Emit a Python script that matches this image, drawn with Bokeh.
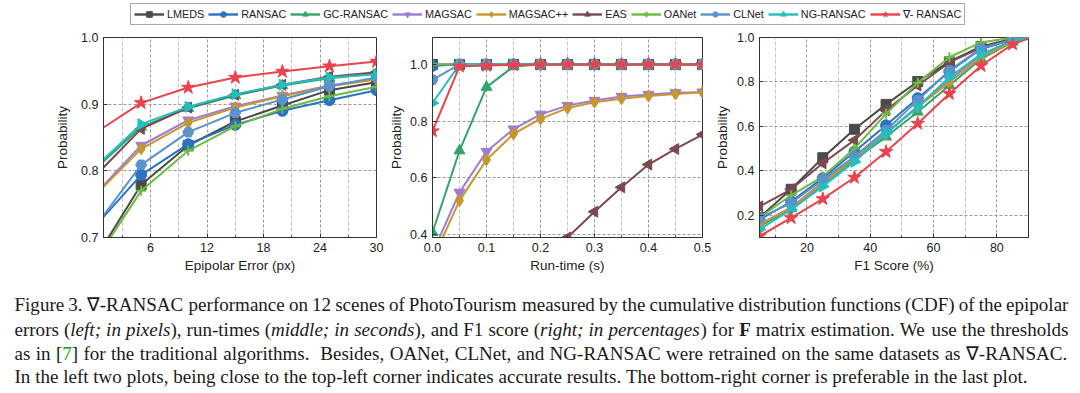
import math
from bokeh.plotting import figure
from bokeh.models import Range1d, FixedTicker, Legend, LegendItem, ColumnDataSource, NumeralTickFormatter
from bokeh.layouts import column, row
from bokeh.core.properties import value
from bokeh.embed import file_html
from bokeh.resources import INLINE

# ---------------- data ----------------
methods = ["LMEDS", "RANSAC", "GC-RANSAC", "MAGSAC", "MAGSAC++", "EAS",
           "OANet", "CLNet", "NG-RANSAC", "∇- RANSAC"]
colors = ["#4a4a4a", "#2a72c2", "#34a46c", "#9a7fd0", "#c8952e", "#7a4a50",
          "#6dbb45", "#5b92cc", "#22bfc0", "#e9434b"]
markers = ["square", "circle", "triangle", "inverted_triangle", "diamond", "triangle",
           "cross", "hex", "triangle", "star"]
angles = [0, 0, 0, 0, 0, math.pi / 2, 0, 0, -math.pi / 2, 0]
sizes = [10, 11, 11, 11, 12, 11, 10, 11, 11, 14]

# Epipolar error CDF (left)
epi_x = [1, 5, 10, 15, 20, 25, 30]
epi_y = {
    "LMEDS":     [0.688, 0.779, 0.838, 0.874, 0.898, 0.921, 0.933],
    "RANSAC":    [0.731, 0.794, 0.840, 0.869, 0.890, 0.906, 0.921],
    "GC-RANSAC": [0.814, 0.866, 0.894, 0.913, 0.928, 0.939, 0.946],
    "MAGSAC":    [0.778, 0.838, 0.876, 0.897, 0.913, 0.928, 0.938],
    "MAGSAC++":  [0.776, 0.833, 0.872, 0.895, 0.912, 0.927, 0.937],
    "EAS":       [0.805, 0.863, 0.895, 0.914, 0.929, 0.941, 0.948],
    "OANet":     [0.684, 0.770, 0.830, 0.867, 0.893, 0.912, 0.926],
    "CLNet":     [0.733, 0.809, 0.858, 0.887, 0.907, 0.927, 0.940],
    "NG-RANSAC": [0.817, 0.870, 0.896, 0.915, 0.929, 0.940, 0.945],
    "∇- RANSAC": [0.865, 0.902, 0.925, 0.940, 0.949, 0.957, 0.964],
}
# Run-time CDF (middle)
rt_x = [0.0, 0.05, 0.1, 0.15, 0.2, 0.25, 0.3, 0.35, 0.4, 0.45, 0.5]
rt_y = {
    "LMEDS":     [1.0, 1.0, 1.0, 1.0, 1.0, 1.0, 1.0, 1.0, 1.0, 1.0, 1.0],
    "RANSAC":    [0.995, 1.0, 1.0, 1.0, 1.0, 1.0, 1.0, 1.0, 1.0, 1.0, 1.0],
    "GC-RANSAC": [0.408, 0.696, 0.920, 0.993, 1.0, 1.0, 1.0, 1.0, 1.0, 1.0, 1.0],
    "MAGSAC":    [0.335, 0.549, 0.693, 0.772, 0.824, 0.855, 0.873, 0.887, 0.894, 0.900, 0.902],
    "MAGSAC++":  [0.311, 0.520, 0.664, 0.755, 0.808, 0.846, 0.867, 0.879, 0.889, 0.896, 0.902],
    "EAS":       [0.0, 0.01, 0.05, 0.13, 0.26, 0.39, 0.481, 0.567, 0.647, 0.702, 0.753],
    "OANet":     [1.0, 1.0, 1.0, 1.0, 1.0, 1.0, 1.0, 1.0, 1.0, 1.0, 1.0],
    "CLNet":     [0.946, 1.0, 1.0, 1.0, 1.0, 1.0, 1.0, 1.0, 1.0, 1.0, 1.0],
    "NG-RANSAC": [0.864, 1.0, 1.0, 1.0, 1.0, 1.0, 1.0, 1.0, 1.0, 1.0, 1.0],
    "∇- RANSAC": [0.765, 0.993, 0.996, 0.998, 1.0, 1.0, 1.0, 1.0, 1.0, 1.0, 1.0],
}
# F1 score CDF (right)
f1_x = [5, 15, 25, 35, 45, 55, 65, 75, 85, 90]
f1_y = {
    "LMEDS":     [0.190, 0.317, 0.459, 0.587, 0.699, 0.802, 0.891, 0.960, 0.995, 1.0],
    "RANSAC":    [0.180, 0.262, 0.367, 0.486, 0.605, 0.727, 0.847, 0.948, 0.990, 1.0],
    "GC-RANSAC": [0.150, 0.230, 0.340, 0.450, 0.553, 0.665, 0.784, 0.903, 0.980, 0.998],
    "MAGSAC":    [0.160, 0.235, 0.350, 0.460, 0.570, 0.690, 0.810, 0.920, 0.985, 0.999],
    "MAGSAC++":  [0.158, 0.233, 0.344, 0.456, 0.568, 0.687, 0.799, 0.911, 0.980, 0.998],
    "EAS":       [0.240, 0.317, 0.434, 0.538, 0.672, 0.784, 0.888, 0.955, 0.995, 1.0],
    "OANet":     [0.190, 0.290, 0.374, 0.500, 0.657, 0.796, 0.911, 0.978, 1.0, 1.0],
    "CLNet":     [0.188, 0.255, 0.360, 0.464, 0.583, 0.717, 0.851, 0.951, 0.990, 1.0],
    "NG-RANSAC": [0.136, 0.225, 0.330, 0.441, 0.568, 0.687, 0.821, 0.925, 0.985, 0.999],
    "∇- RANSAC": [0.106, 0.188, 0.274, 0.370, 0.486, 0.613, 0.747, 0.873, 0.970, 0.995],
}

epi_xticks = [6, 12, 18, 24, 30]
epi_xminor = [3, 9, 15, 21, 27]
epi_yticks = [0.7, 0.8, 0.9, 1.0]
rt_xticks = [0.0, 0.1, 0.2, 0.3, 0.4, 0.5]
rt_xminor = [0.05, 0.15, 0.25, 0.35, 0.45]
rt_yticks = [0.4, 0.6, 0.8, 1.0]
f1_xticks = [20, 40, 60, 80]
f1_xminor = [10, 30, 50, 70]
f1_yticks = [0.2, 0.4, 0.6, 0.8, 1.0]

caption_lines = [
    [("Figure 3. ∇-RANSAC performance on 12 scenes of PhotoTourism measured by the cumulative distribution functions (CDF) of the epipolar", "r")],
    [("errors (", "r"), ("left; in pixels", "i"), ("), run-times (", "r"), ("middle; in seconds", "i"),
     ("), and F1 score (", "r"), ("right; in percentages", "i"), (") for ", "r"), ("F", "b"),
     (" matrix estimation. We use the thresholds", "r")],
    [("as in [", "r"), ("7", "g"), ("] for the traditional algorithms.  Besides, OANet, CLNet, and NG-RANSAC were retrained on the same datasets as ∇-RANSAC.", "r")],
    [("In the left two plots, being close to the top-left corner indicates accurate results. The bottom-right corner is preferable in the last plot.", "r")],
]

SANS = "Liberation Sans"
AXIS_C = "#333333"


def panel(xs, ys, m0, m1, xr, yr, xt, xmt, yt, xfmt, xlabel, width, bl, br, ylab_standoff):
    p = figure(width=width, height=245, x_range=Range1d(*xr), y_range=Range1d(*yr),
               toolbar_location=None, output_backend="svg",
               min_border_left=bl, min_border_right=br, min_border_top=7, min_border_bottom=37)
    p.background_fill_color = "white"
    p.border_fill_color = "white"
    p.outline_line_color = AXIS_C
    p.outline_line_width = 1
    xtk = FixedTicker(ticks=xt, minor_ticks=xmt)
    ytk = FixedTicker(ticks=yt, minor_ticks=[])
    p.xaxis.ticker = xtk
    p.yaxis.ticker = ytk
    p.xgrid.ticker = xtk
    p.ygrid.ticker = ytk
    p.yaxis.formatter = NumeralTickFormatter(format="0.0")
    p.xaxis.formatter = NumeralTickFormatter(format=xfmt)
    for g in (p.xgrid, p.ygrid):
        g.grid_line_color = "#9a9a9a"
        g.grid_line_dash = "3 2"
        g.grid_line_width = 1
    p.xgrid.minor_grid_line_color = "#c4c4c4"
    p.xgrid.minor_grid_line_dash = "4 2"
    for ax in (p.xaxis, p.yaxis):
        ax.axis_line_color = AXIS_C
        ax.major_tick_line_color = AXIS_C
        ax.minor_tick_line_color = AXIS_C
        ax.major_tick_in = 4
        ax.major_tick_out = 0
        ax.minor_tick_in = 2
        ax.minor_tick_out = 0
        ax.major_label_text_font = SANS
        ax.major_label_text_font_size = "12.5px"
        ax.major_label_text_color = "#222222"
        ax.axis_label_text_font = SANS
        ax.axis_label_text_font_size = "13.5px"
        ax.axis_label_text_font_style = "normal"
        ax.axis_label_text_color = "#222222"
        ax.major_label_standoff = 5
    p.xaxis.axis_label = xlabel
    p.xaxis.axis_label_standoff = 3
    p.yaxis.axis_label = "Probability"
    p.yaxis.axis_label_standoff = ylab_standoff
    for i, m in enumerate(methods):
        c = colors[i]
        p.line(xs, ys[m], line_color=c, line_width=2)
        p.scatter(xs[m0:m1], ys[m][m0:m1], marker=markers[i], size=sizes[i], angle=angles[i],
                  fill_color=c, line_color=c, line_width=2 if markers[i] == "cross" else 1)
    return p


p_epi = panel(epi_x, epi_y, 1, len(epi_x), (1, 30), (0.7, 1.0), epi_xticks, epi_xminor,
              epi_yticks, "0", "Epipolar Error (px)", 386, 103, 10, 8)
p_rt = panel(rt_x, rt_y, 0, len(rt_x), (0.0, 0.5), (0.39, 1.095), rt_xticks, rt_xminor,
             rt_yticks, "0.0", "Run-time (s)", 326, 42, 10, 3)
p_f1 = panel(f1_x, f1_y, 0, len(f1_x) - 1, (5, 90), (0.1, 1.0), f1_xticks, f1_xminor,
             f1_yticks, "0", "F1 Score (%)", 320, 41, 4, 4)

# ---------------- legend strip ----------------
pl = figure(width=1080, height=30, x_range=Range1d(0, 1), y_range=Range1d(0, 1),
            toolbar_location=None, output_backend="svg", x_axis_type=None, y_axis_type=None,
            min_border=0)
pl.outline_line_color = None
pl.background_fill_color = "white"
pl.border_fill_color = "white"
items = []
for i, m in enumerate(methods):
    c = colors[i]
    # a single point placed outside the visible range, so only the legend glyph shows
    lr = pl.line(x=[5, 6], y=[5, 5], line_color=c, line_width=2.4)
    sr = pl.scatter(x=[5], y=[5], marker=markers[i], size=sizes[i] + 2, angle=angles[i],
                    fill_color=c, line_color=c, line_width=2 if markers[i] == "cross" else 1)
    items.append(LegendItem(label=m, renderers=[lr, sr]))
leg = Legend(items=items, location=(130, 5), orientation="horizontal",
             glyph_width=30, glyph_height=14, label_height=14, label_standoff=3,
             spacing=4, padding=3, margin=0,
             label_text_font=SANS, label_text_font_size="10.8px", label_text_color="#222222",
             border_line_color="#555555", border_line_width=1, background_fill_alpha=1)
pl.add_layout(leg)

# ---------------- caption ----------------
ROMAN = {' ': 250, '(': 333, ')': 333, ',': 250, '-': 333, '.': 250, ';': 278, ':': 278,
         '[': 333, ']': 333, '∇': 750,
         'A': 722, 'B': 667, 'C': 667, 'D': 722, 'E': 611, 'F': 556, 'G': 722, 'H': 722,
         'I': 333, 'J': 389, 'K': 722, 'L': 611, 'M': 889, 'N': 722, 'O': 722, 'P': 556,
         'Q': 722, 'R': 667, 'S': 556, 'T': 611, 'U': 722, 'V': 722, 'W': 944, 'X': 722,
         'Y': 722, 'Z': 611,
         'a': 444, 'b': 500, 'c': 444, 'd': 500, 'e': 444, 'f': 333, 'g': 500, 'h': 500,
         'i': 278, 'j': 278, 'k': 500, 'l': 278, 'm': 778, 'n': 500, 'o': 500, 'p': 500,
         'q': 500, 'r': 333, 's': 389, 't': 278, 'u': 500, 'v': 500, 'w': 722, 'x': 500,
         'y': 500, 'z': 444}
ITALIC = dict(ROMAN)
ITALIC.update({'a': 500, 'f': 278, 'k': 444, 'm': 722, 'r': 389, 'v': 444, 'w': 667,
               'x': 444, 'y': 444, 'z': 389, ';': 333})
BOLD = dict(ROMAN)
BOLD.update({'F': 611})
WT = {"r": ROMAN, "i": ITALIC, "b": BOLD, "g": ROMAN}


def units(t, s):
    return sum(WT[s].get(ch, 500) for ch in t)


CAP_H = 118
cap_x0 = 14
line_end_w = 1054
last_w = 1013
baselines = [29, 54, 78, 101]
fs = last_w * 1000.0 / sum(units(t, s) for t, s in caption_lines[3])

pieces = {"r": ([], [], []), "i": ([], [], []), "b": ([], [], []), "g": ([], [], [])}
for li, runs in enumerate(caption_lines):
    nat = sum(units(t, s) for t, s in runs) * fs / 1000.0
    nsp = sum(t.count(" ") for t, s in runs)
    extra = (line_end_w - nat) / nsp if li < 3 else 0.0
    x = cap_x0
    for t, s in runs:
        parts = t.split(" ")
        for k, part in enumerate(parts):
            if k > 0:
                x += 250 * fs / 1000.0 + extra
            if part:
                pieces[s][0].append(x)
                pieces[s][1].append(baselines[li])
                pieces[s][2].append(part)
                x += units(part, s) * fs / 1000.0

pc = figure(width=1080, height=CAP_H, x_range=Range1d(0, 1080), y_range=Range1d(CAP_H, 0),
            toolbar_location=None, output_backend="svg", x_axis_type=None, y_axis_type=None,
            min_border=0)
pc.outline_line_color = None
pc.background_fill_color = "white"
pc.border_fill_color = "white"
styles = {"r": ("normal", "#1a1a1a"), "i": ("italic", "#1a1a1a"),
          "b": ("bold", "#1a1a1a"), "g": ("normal", "#11a011")}
for s, (xs_, ys_, ts_) in pieces.items():
    if not ts_:
        continue
    src = ColumnDataSource(dict(x=xs_, y=ys_, t=ts_))
    pc.text(x="x", y="y", text="t", source=src, text_font=value("Liberation Serif"),
            text_font_size=value("%.2fpx" % fs), text_font_style=styles[s][0],
            text_color=styles[s][1], text_align="left", text_baseline="alphabetic")

layout = column(pl, row(p_epi, p_rt, p_f1), pc)
open("out.html", "w").write(file_html(layout, INLINE))
